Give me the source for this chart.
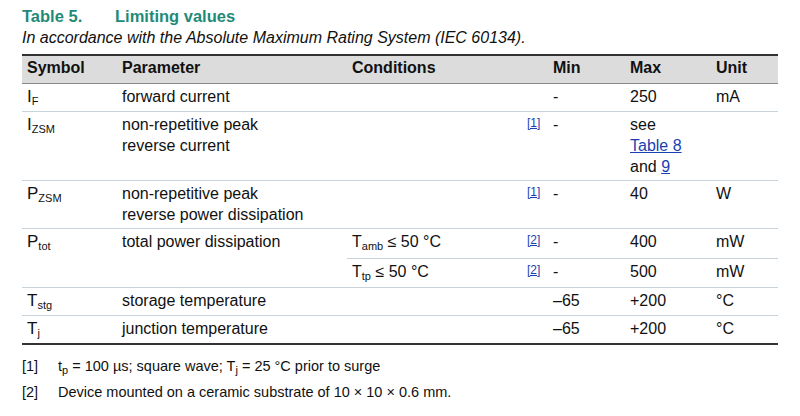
<!DOCTYPE html>
<html><head><meta charset="utf-8">
<script src="https://cdn.jsdelivr.net/npm/chart.js@4"></script>
<style>
body{margin:0;width:800px;height:416px;background:#fff;font-family:"Liberation Sans",Arial,sans-serif;color:#111;position:relative;overflow:hidden}
.a{position:absolute;font-size:16px;line-height:21px;white-space:nowrap}
.ln{position:absolute;left:22px;width:756px}
a{color:#1a3fb0}
sub{font-size:11px;vertical-align:-3px;line-height:0}
.ref{font-size:12px;color:#1a3fb0;text-decoration:underline}
</style></head><body>
<div id="t"></div>
<script>
// table content
const headers = ["Symbol", "Parameter", "Conditions", "Min", "Max", "Unit"];
const symbols = ["I<sub>F</sub>", "I<sub>ZSM</sub>", "P<sub>ZSM</sub>", "P<sub>tot</sub>", "", "T<sub>stg</sub>", "T<sub>j</sub>"];
const params = ["forward current", "non-repetitive peak<br>reverse current", "non-repetitive peak<br>reverse power dissipation", "total power dissipation", "", "storage temperature", "junction temperature"];
const conditions = ["", "", "", "T<sub>amb</sub> ≤ 50 °C", "T<sub>tp</sub> ≤ 50 °C", "", ""];
const refs = ["", "[1]", "[1]", "[2]", "[2]", "", ""];
const mins = ["-", "-", "-", "-", "-", "–65", "–65"];
const maxs = ["250", 'see<br><a href="#">Table 8</a><br>and <a href="#">9</a>', "40", "400", "500", "+200", "+200"];
const units = ["mA", "", "W", "mW", "mW", "°C", "°C"];
const rowTops = [83, 111, 180, 228, 258, 287, 315];
const rowEnd = 343;

const t = document.getElementById('t');
const put = (h, x, y, st) => { const d = document.createElement('div'); d.className = 'a'; d.style.left = x + 'px'; d.style.top = y + 'px'; if (st) d.style.cssText += st; d.innerHTML = h; t.appendChild(d); return d; };
const line = (y, c, h) => { const d = document.createElement('div'); d.className = 'ln'; d.style.top = y + 'px'; d.style.height = h + 'px'; d.style.background = c; t.appendChild(d); };

put('<b>Table 5.</b>', 22, 7, 'color:#1f8a78;font-size:16.5px;line-height:19px');
put('<b>Limiting values</b>', 115, 7, 'color:#1f8a78;font-size:16.5px;line-height:19px');
put('<i>In accordance with the Absolute Maximum Rating System (IEC 60134).</i>', 22, 28, 'font-size:16px;line-height:19px');

const hd = document.createElement('div'); hd.className = 'ln'; hd.style.cssText += 'top:54px;height:27px;background:#dcdcdc;border-top:2px solid #333;border-bottom:1px solid #888'; t.appendChild(hd);
const cols = [27, 122, 352, 553, 630, 716];
headers.forEach((h, i) => put('<b>' + h + '</b>', cols[i], 57, 'font-size:16px'));

rowTops.forEach((y, i) => {
  const ty = y + 3;
  put(symbols[i], cols[0], ty, 'font-size:17px');
  put(params[i], cols[1], ty);
  put(conditions[i], cols[2], ty, 'font-size:16px');
  if (refs[i]) put('<span class="ref">' + refs[i] + '</span>', 527, ty - 3);
  put(mins[i], cols[3], ty);
  put(maxs[i], cols[4], ty);
  put(units[i], cols[5], ty);
  if (i > 0) {
    const d = document.createElement('div'); d.className = 'ln'; d.style.top = y + 'px'; d.style.height = '1px'; d.style.background = '#c9d3dc';
    if (i === 4) { d.style.left = '347px'; d.style.width = '431px'; }
    t.appendChild(d);
  }
});
line(rowEnd, '#333', 2);

put('[1]', 22, 356, 'font-size:14.5px');
put('t<sub>p</sub> = 100 µs; square wave; T<sub>j</sub> = 25 °C prior to surge', 58, 356, 'font-size:14.5px');
put('[2]', 22, 382, 'font-size:14.5px');
put('Device mounted on a ceramic substrate of 10 × 10 × 0.6 mm.', 58, 382, 'font-size:14.5px');
</script>
</body></html>
